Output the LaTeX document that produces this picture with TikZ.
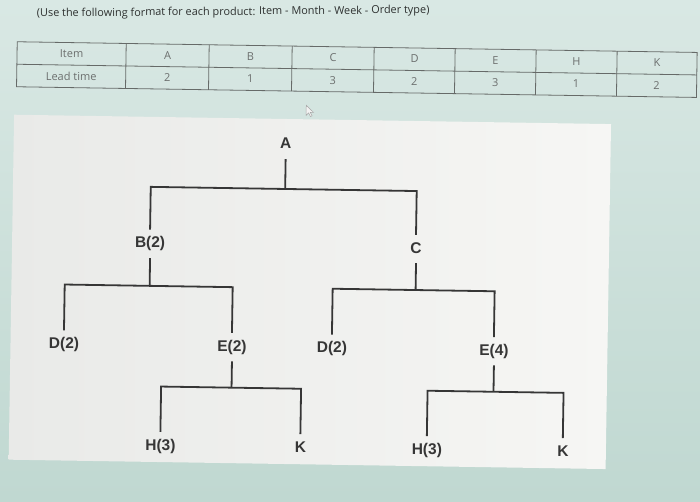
\documentclass[tikz,border=0pt]{standalone}
\usepackage{fontspec}
\setmainfont{Liberation Sans}
\newfontfamily\uifont{Open Sans}
\definecolor{bgtop}{HTML}{D9E8E4}
\definecolor{bgbot}{HTML}{C0D8D1}
\definecolor{panelL}{HTML}{E9EAE8}
\definecolor{panelR}{HTML}{F6F6F4}
\definecolor{tblline}{HTML}{666A68}
\definecolor{tbltext}{HTML}{6C6F6E}
\definecolor{toptext}{HTML}{2E3130}
\definecolor{treeink}{HTML}{363636}
\tikzset{
  tbl/.style={draw=tblline, line width=0.8pt},
  celltext/.style={font=\uifont\fontsize{11}{13}\selectfont, text=tbltext, inner sep=0pt},
  lbl/.style={font=\bfseries\fontsize{15.5}{17}\selectfont, text=treeink, inner xsep=2pt, inner ysep=7pt, text height=11pt, text depth=3pt},
  edge/.style={draw=treeink, line width=1.8pt},
}
\begin{document}
\begin{tikzpicture}[x=1pt,y=-1pt]
\useasboundingbox (0,0) rectangle (700,501);
\shade[top color=bgtop, bottom color=bgbot] (0,0) rectangle (700,501);
\begin{scope}[rotate around={-0.9:(350,250)}]
  % heading
  \node[font=\uifont\fontsize{10.9}{13}\selectfont, text=toptext, anchor=west, inner sep=0pt, rotate=0.5] (head) at (33,19)
    {(Use the following format for each product: Item - Month - Week - Order type)};
  % table
  \draw[tbl] (14,47) rectangle (694,92);
  \draw[tbl] (14,69.5) -- (694,69.5);
  \foreach \cx in {123,206,289,371,452,533,614} \draw[tbl] (\cx,47) -- (\cx,92);
  \node[celltext] (hItem) at (68.5,58) {Item};
  \node[celltext] (hA) at (164.5,58) {A};
  \node[celltext] (hB) at (247.5,58) {B};
  \node[celltext] (hC) at (330,58) {C};
  \node[celltext] (hD) at (411.5,58) {D};
  \node[celltext] (hE) at (492.5,58) {E};
  \node[celltext] (hH) at (573.5,58) {H};
  \node[celltext] (hK) at (654,58) {K};
  \node[celltext] (vLead) at (68.5,80.5) {Lead time};
  \node[celltext] (vA) at (164.5,80.5) {2};
  \node[celltext] (vB) at (247.5,80.5) {1};
  \node[celltext] (vC) at (330,80.5) {3};
  \node[celltext] (vD) at (411.5,80.5) {2};
  \node[celltext] (vE) at (492.5,80.5) {3};
  \node[celltext] (vH) at (573.5,80.5) {1};
  \node[celltext] (vK) at (654,80.5) {2};
  % cursor
  \draw[draw=gray!70, fill=white!90!gray, line width=0.5pt, shift={(304,106)}]
    (0,0) -- (0,10) -- (2.5,7.6) -- (4.4,11.2) -- (6,10.4) -- (4.1,7) -- (7.4,7) -- cycle;
  % panel
  \shade[left color=panelL, right color=panelR] (12,120) rectangle (609,465);
  % tree labels
  \node[lbl] (A)  at (284,146) {A};
  \node[lbl] (B)  at (150,247) {B(2)};
  \node[lbl] (C)  at (416,248) {C};
  \node[lbl] (D1) at (65.5,349) {D(2)};
  \node[lbl] (E1) at (233.5,349) {E(2)};
  \node[lbl] (D2) at (333.5,349) {D(2)};
  \node[lbl] (E2) at (495.5,349) {E(4)};
  \node[lbl] (H1) at (163.5,449) {H(3)};
  \node[lbl] (K1) at (303.5,449) {K};
  \node[lbl] (H2) at (430,449) {H(3)};
  \node[lbl] (K2) at (566,449) {K};
  \coordinate (yA) at (0,190);
  \coordinate (yB) at (0,289);
  \coordinate (yE) at (0,389.5);
  % connectors
  \draw[edge] (A.south) -- (A.south |- yA);
  \draw[edge] (B.north) -- (B.north |- yA) -- (C.north |- yA) -- (C.north);
  \draw[edge] (B.south) -- (B.south |- yB);
  \draw[edge] (D1.north) -- (D1.north |- yB) -- (E1.north |- yB) -- (E1.north);
  \draw[edge] (C.south) -- (C.south |- yB);
  \draw[edge] (D2.north) -- (D2.north |- yB) -- (E2.north |- yB) -- (E2.north);
  \draw[edge] (E1.south) -- (E1.south |- yE);
  \draw[edge] (H1.north) -- (H1.north |- yE) -- (K1.north |- yE) -- (K1.north);
  \draw[edge] (E2.south) -- (E2.south |- yE);
  \draw[edge] (H2.north) -- (H2.north |- yE) -- (K2.north |- yE) -- (K2.north);
\end{scope}
\end{tikzpicture}
\end{document}
